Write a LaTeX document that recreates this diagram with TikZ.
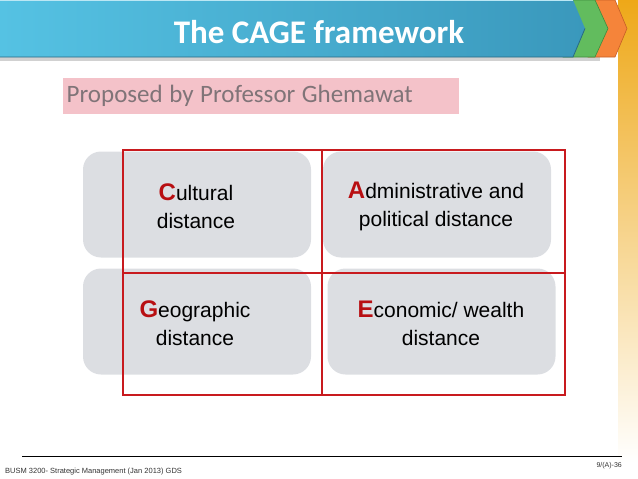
\documentclass[tikz,border=0pt]{standalone}
\usepackage{fontspec}
\setmainfont{Liberation Sans}
\newfontfamily\calibri{Carlito}
\definecolor{blueL}{HTML}{55C2E3}
\definecolor{blueR}{HTML}{3A98BC}
\definecolor{greenC}{HTML}{62BC5E}
\definecolor{greenD}{HTML}{3E8B3C}
\definecolor{orangeC}{HTML}{F5843A}
\definecolor{orangeD}{HTML}{C55E26}
\definecolor{barY}{HTML}{EEA818}
\definecolor{pinkC}{HTML}{F4C2C9}
\definecolor{subGray}{HTML}{807478}
\definecolor{boxGray}{HTML}{DCDEE2}
\definecolor{gridRed}{HTML}{C81A1E}
\definecolor{letRed}{HTML}{B80F12}
\tikzset{
  cellbox/.style={fill=boxGray, rounded corners=18pt, inner sep=0pt, minimum width=228pt, minimum height=106pt},
  celltext/.style={align=center, font=\fontsize{21}{28}\selectfont, text=black, inner sep=0pt},
  gridline/.style={draw=gridRed, line width=1.5pt},
  footer/.style={font=\fontsize{7.5}{9}\selectfont, text=black!80, inner sep=0pt}
}
\newcommand{\bigL}[1]{{\fontsize{24}{28}\selectfont\bfseries\color{letRed}#1}}
\begin{document}
\begin{tikzpicture}[x=1pt,y=-1pt]
\useasboundingbox (0,0) rectangle (638,479);
% right vertical bar
\shade[top color=barY, bottom color=white] (618,0) rectangle (638,462);
% banner shadow
\fill[black!18] (0,57) rectangle (600,60.5);
% chevrons
\fill[orangeC, draw=orangeD, line width=0.6pt] (588,0) -- (615,0) -- (627,28.5) -- (615,57) -- (588,57) -- cycle;
\fill[greenC, draw=greenD, line width=0.6pt] (563,0) -- (595,0) -- (608,28.5) -- (595,57) -- (563,57) -- cycle;
% blue banner
\shade[left color=blueL, right color=blueR] (0,0) -- (573,0) -- (585,28.5) -- (573,57) -- (0,57) -- cycle;
\draw[blueR!70!black, line width=0.8pt] (0,57) -- (573,57) -- (585,28.5);
\draw[white!60!blueL, line width=0.8pt] (0,0.5) -- (573,0.5);
\node[text=white, inner sep=0pt] (title) at (319,32) {\calibri\bfseries\fontsize{33}{36}\selectfont The CAGE framework};
% subtitle box
\node[fill=pinkC, inner sep=0pt, minimum width=396pt, minimum height=36pt, text width=389pt, align=left, anchor=north west, text=subGray] (sub) at (63,78) {\calibri\fontsize{25}{27}\selectfont\spaceskip=6.5pt Proposed by Professor Ghemawat};
% cells
\node[cellbox] (c) at (197,204.5) {};
\node[cellbox] (a) at (437,204.5) {};
\node[cellbox] (g) at (197,321.5) {};
\node[cellbox] (e) at (441.5,321.5) {};
\node[celltext] (ct) at (196,206) {\bigL{C}ultural\\distance};
\node[celltext] (at) at (436,206) {\bigL{A}dministrative and\\political distance};
\node[celltext] (gt) at (195,323) {\bigL{G}eographic\\distance};
\node[celltext] (et) at (441,323) {\bigL{E}conomic/ wealth\\distance};
% red grid
\coordinate (g1) at (123,150);
\coordinate (g2) at (565,395);
\coordinate (vt) at (322,150);
\coordinate (vb) at (322,395);
\coordinate (hl) at (123,273);
\coordinate (hr) at (565,273);
\draw[gridline] (g1) rectangle (g2);
\draw[gridline] (vt) -- (vb);
\draw[gridline] (hl) -- (hr);
% footer
\coordinate (fl) at (22,456.5);
\coordinate (fr) at (622,456.5);
\draw[black, line width=0.9pt] (fl) -- (fr);
\node[footer, anchor=west] (ftl) at (5,471.5) {BUSM 3200- Strategic Management (Jan 2013) GDS};
\node[footer, anchor=east, font=\fontsize{7}{9}\selectfont] (ftr) at (622,466) {9/(A)-36};
\end{tikzpicture}
\end{document}
